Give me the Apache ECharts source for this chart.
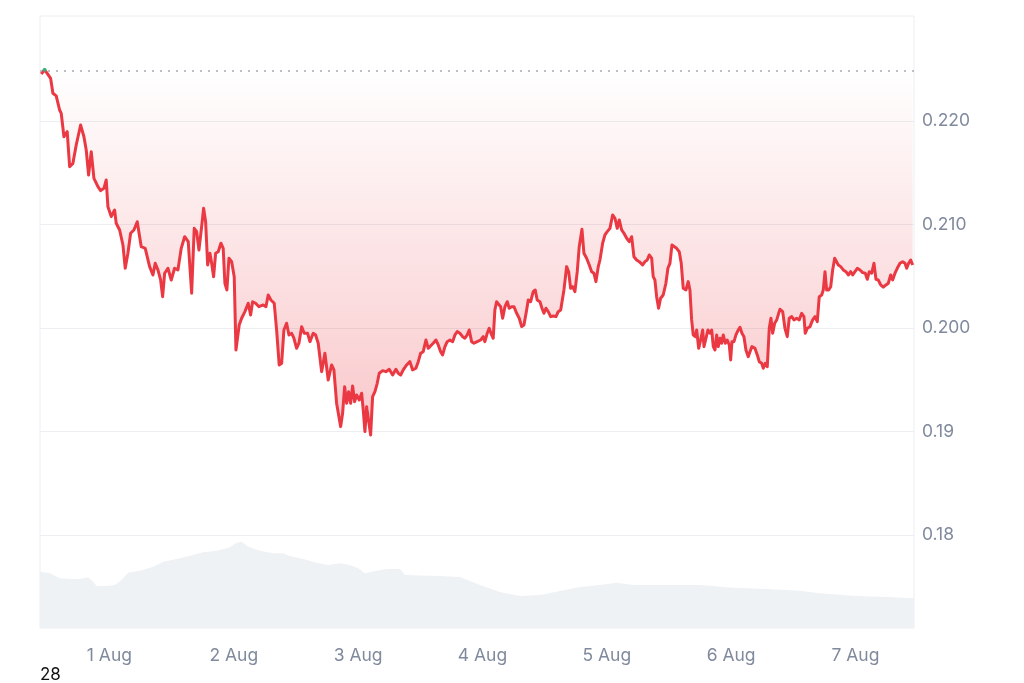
<!DOCTYPE html>
<html><head><meta charset="utf-8">
<script src="https://cdn.jsdelivr.net/npm/echarts@6/dist/echarts.min.js"></script>
<style>html,body{margin:0;padding:0;background:#fff}#c{width:1024px;height:683px}</style>
</head><body><div id="c"></div>
<script>
// hours counted from 31 Jul 00:00
const dayTicks = [24, 48, 72, 96, 120, 144, 168];
const dayLabels = ['1 Aug', '2 Aug', '3 Aug', '4 Aug', '5 Aug', '6 Aug', '7 Aug'];
const xRange = [10.6, 179.3];
const yTickValues = [0.18, 0.19, 0.20, 0.21, 0.22];
const yTickLabels = ['0.18', '0.19', '0.200', '0.210', '0.220'];
const baselinePrice = 0.22483;
const cornerNote = '28';

// [hour, price]
const pricePoints = [
[10.84,0.22454],[11.49,0.22495],[11.99,0.22461],[12.65,0.22412],[13.09,0.22268],[13.73,0.22242],[14.39,0.22106],[14.70,0.22074],[15.22,0.21848],[15.85,0.21897],
[16.32,0.21559],[16.95,0.21591],[17.59,0.21768],[17.92,0.21752],[18.44,0.21961],[19.08,0.21848],[19.52,0.21720],[19.98,0.21478],[20.49,0.21703],[21.01,0.21446],
[21.78,0.21365],[22.30,0.21327],[22.94,0.21350],[23.38,0.21430],[23.71,0.21172],[24.35,0.21076],[25.00,0.21140],[25.31,0.21012],[25.97,0.20947],[26.61,0.20802],
[27.05,0.20577],[27.57,0.20722],[28.09,0.20915],[28.73,0.20947],[29.37,0.21027],[30.14,0.20786],[30.91,0.20770],[31.76,0.20593],[32.40,0.20512],[32.84,0.20625],
[33.36,0.20561],[33.88,0.20464],[34.27,0.20303],[34.66,0.20529],[35.29,0.20577],[35.93,0.20464],[36.58,0.20577],[37.22,0.20561],[37.86,0.20770],[38.52,0.20882],
[39.21,0.20834],[39.87,0.20336],[40.37,0.20963],[40.83,0.20931],[41.28,0.20754],[41.80,0.20979],[42.18,0.21157],[42.57,0.21027],[42.96,0.20609],[43.40,0.20722],
[43.73,0.20625],[44.11,0.20496],[44.50,0.20722],[45.00,0.20737],[45.52,0.20819],[45.96,0.20770],[46.29,0.20432],[46.68,0.20367],[47.07,0.20674],[47.59,0.20641],
[48.09,0.20496],[48.42,0.19788],[48.75,0.19804],[49.05,0.20029],[49.52,0.20094],[50.15,0.20158],[50.79,0.20239],[51.25,0.20126],[51.64,0.20254],[52.22,0.20239],
[52.86,0.20206],[53.68,0.20223],[54.21,0.20206],[54.65,0.20319],[55.17,0.20271],[55.81,0.20239],[56.27,0.19981],[56.77,0.19643],[57.24,0.19659],[57.68,0.19981],
[58.20,0.20046],[58.65,0.19933],[59.17,0.19949],[59.61,0.19901],[60.13,0.19804],[60.58,0.19853],[61.10,0.20013],[61.60,0.19949],[62.25,0.19949],[62.70,0.19868],
[63.03,0.19853],[63.34,0.19949],[63.80,0.19933],[64.30,0.19853],[64.96,0.19578],[65.27,0.19595],[65.59,0.19756],[66.23,0.19498],[66.89,0.19643],[67.33,0.19595],
[67.85,0.19273],[68.63,0.19047],[69.01,0.19176],[69.40,0.19433],[69.79,0.19273],[70.17,0.19385],[70.56,0.19273],[70.94,0.19440],[71.33,0.19288],[71.72,0.19353],
[72.22,0.19305],[72.68,0.19370],[72.99,0.19208],[73.32,0.18999],[73.65,0.19240],[74.03,0.19225],[74.42,0.18967],[74.80,0.19337],[75.25,0.19385],[75.69,0.19466],
[76.08,0.19563],[76.74,0.19588],[77.37,0.19578],[78.01,0.19601],[78.67,0.19546],[79.30,0.19601],[79.75,0.19563],[80.21,0.19546],[80.71,0.19595],[81.37,0.19643],
[82.00,0.19675],[82.52,0.19595],[83.16,0.19611],[83.61,0.19675],[84.07,0.19756],[84.57,0.19771],[85.09,0.19884],[85.54,0.19804],[85.87,0.19788],[86.50,0.19853],
[87.02,0.19884],[87.47,0.19836],[87.93,0.19771],[88.31,0.19740],[88.76,0.19820],[89.20,0.19868],[89.72,0.19884],[90.24,0.19868],[90.69,0.19933],[91.13,0.19965],
[91.65,0.19949],[92.17,0.19916],[92.62,0.19901],[93.06,0.19933],[93.45,0.19981],[93.91,0.19868],[94.36,0.19853],[94.99,0.19868],[95.65,0.19884],[96.15,0.19916],
[96.47,0.19868],[96.92,0.19949],[97.30,0.19997],[97.77,0.19933],[98.08,0.19901],[98.40,0.20174],[98.73,0.20254],[99.04,0.20239],[99.51,0.20206],[99.90,0.20094],
[100.34,0.20206],[100.79,0.20254],[101.17,0.20191],[101.64,0.20206],[102.08,0.20206],[102.60,0.20142],[103.10,0.20094],[103.57,0.20013],[104.01,0.20029],[104.53,0.20174],
[104.84,0.20271],[105.30,0.20254],[105.80,0.20351],[106.19,0.20367],[106.57,0.20271],[107.10,0.20254],[107.49,0.20191],[107.87,0.20142],[108.26,0.20191],[108.70,0.20158],
[109.17,0.20110],[109.67,0.20116],[110.19,0.20110],[110.63,0.20158],[111.10,0.20174],[111.48,0.20191],[111.73,0.20367],[112.25,0.20593],[112.64,0.20544],[113.02,0.20384],
[113.41,0.20399],[113.85,0.20351],[114.30,0.20544],[114.68,0.20786],[115.21,0.20954],[115.59,0.20722],[116.11,0.20674],[116.62,0.20609],[117.08,0.20544],[117.52,0.20529],
[117.91,0.20448],[118.36,0.20593],[118.68,0.20657],[119.20,0.20819],[119.65,0.20899],[120.09,0.20931],[120.61,0.20963],[121.13,0.21092],[121.58,0.21060],[122.02,0.20963],
[122.41,0.21044],[122.87,0.20947],[123.32,0.20915],[123.84,0.20867],[124.34,0.20834],[124.80,0.20882],[125.24,0.20689],[125.76,0.20657],[126.27,0.20641],[126.92,0.20609],
[127.37,0.20641],[127.81,0.20657],[128.19,0.20706],[128.66,0.20674],[128.96,0.20496],[129.29,0.20464],[129.62,0.20303],[130.00,0.20191],[130.39,0.20287],[130.89,0.20319],
[131.41,0.20432],[131.80,0.20577],[132.19,0.20625],[132.58,0.20802],[132.96,0.20786],[133.48,0.20770],[133.99,0.20737],[134.37,0.20625],[134.76,0.20384],[135.28,0.20367],
[135.72,0.20448],[136.05,0.20367],[136.38,0.20078],[136.69,0.19933],[137.08,0.19916],[137.35,0.19981],[137.74,0.19804],[138.12,0.19884],[138.51,0.19981],[138.76,0.19820],
[139.15,0.19901],[139.53,0.19981],[139.92,0.19949],[140.25,0.19981],[140.56,0.19820],[140.89,0.19788],[141.21,0.19933],[141.52,0.19820],[141.85,0.19901],[142.17,0.19853],
[142.48,0.19933],[142.87,0.19853],[143.25,0.19884],[143.64,0.19836],[143.91,0.19691],[144.16,0.19868],[144.55,0.19868],[144.93,0.19933],[145.38,0.19981],[145.71,0.20007],
[146.09,0.19949],[146.48,0.19916],[146.86,0.19788],[147.31,0.19723],[147.64,0.19771],[148.02,0.19820],[148.60,0.19804],[149.05,0.19740],[149.43,0.19675],[149.90,0.19659],
[150.21,0.19611],[150.59,0.19659],[150.98,0.19627],[151.36,0.19997],[151.69,0.20094],[152.02,0.19949],[152.41,0.20046],[152.80,0.20078],[153.18,0.20142],[153.44,0.20181],
[153.95,0.20158],[154.39,0.19997],[154.84,0.19916],[155.22,0.20094],[155.69,0.20110],[156.13,0.20078],[156.65,0.20094],[157.15,0.20078],[157.62,0.20142],[158.06,0.20110],
[158.31,0.19949],[158.70,0.19997],[159.22,0.20013],[159.74,0.20078],[160.19,0.20110],[160.63,0.20061],[161.01,0.20303],[161.48,0.20319],[161.79,0.20367],[162.12,0.20544],
[162.44,0.20367],[162.83,0.20367],[163.22,0.20399],[163.60,0.20561],[163.99,0.20674],[164.24,0.20689],[164.69,0.20609],[165.15,0.20593],[165.65,0.20561],[166.17,0.20544],
[166.62,0.20512],[167.08,0.20544],[167.47,0.20512],[167.91,0.20544],[168.36,0.20577],[168.87,0.20561],[169.39,0.20535],[169.89,0.20529],[170.28,0.20471],[170.67,0.20544],
[171.13,0.20529],[171.57,0.20625],[171.96,0.20471],[172.40,0.20464],[172.87,0.20416],[173.37,0.20394],[173.89,0.20416],[174.34,0.20432],[174.80,0.20512],[175.18,0.20464],
[175.63,0.20529],[176.07,0.20577],[176.59,0.20625],[177.11,0.20641],[177.56,0.20625],[177.89,0.20577],[178.27,0.20625],[178.66,0.20657],[179.04,0.20609]
];

// [hour, volume (M)]
const volumePoints = [
[10.6,64.4],[12.52,62.6],[14.45,56.8],[16.38,56.0],[18.31,56.0],[19.91,58.0],[20.87,53.0],[21.53,48.0],[23.46,48.0],[25.06,49.2],
[26.36,54.9],[27.63,63.3],[29.89,65.5],[32.46,70.1],[34.39,75.8],[36.97,78.9],[39.54,82.7],[42.11,86.6],[44.69,88.4],[47.26,92.3],
[48.55,97.6],[49.52,98.7],[50.79,93.0],[53.05,88.4],[55.62,85.4],[57.55,85.4],[58.84,82.4],[61.41,78.9],[63.99,74.7],[66.23,72.1],
[68.49,74.0],[70.42,72.1],[72.02,68.3],[73.32,62.6],[75.58,65.5],[77.51,67.5],[80.08,67.5],[81.04,60.6],[87.80,59.5],[91.66,58.3],
[95.52,49.2],[99.38,41.2],[103.24,36.6],[107.10,37.7],[110.96,42.3],[114.82,46.9],[118.68,49.2],[121.9,51.8],[125.11,49.2],[131.55,49.2],
[137.98,49.2],[144.41,46.1],[150.86,44.6],[157.29,42.7],[161.15,39.7],[168.24,36.6],[175.30,35.1],[179.3,34.0]
];

const abovePoints = pricePoints.filter(([h, p]) => p > baselinePrice);

const labelColor = '#808a9d';
const fontFam = 'Inter, "Liberation Sans", Arial, sans-serif';
const fillGradient = new echarts.graphic.LinearGradient(0, 0, 0, 1, [
  {offset: 0, color: 'rgba(234,57,67,0.0)'},
  {offset: 1, color: 'rgba(234,57,67,0.28)'}
]);

const chart = echarts.init(document.getElementById('c'), null, {renderer: 'canvas'});
chart.setOption({
  animation: false,
  backgroundColor: '#ffffff',
  textStyle: {fontFamily: fontFam},
  grid: [
    {left: 40, right: 110, top: 16, bottom: 55, show: true, borderColor: '#eceef1', borderWidth: 1, backgroundColor: 'transparent'},
    {left: 40, right: 110, top: 17.5, bottom: 44.5}
  ],
  xAxis: [
    {gridIndex: 0, type: 'value', min: xRange[0], max: xRange[1],
     axisLine: {show: false}, axisTick: {show: false}, splitLine: {show: false},
     axisLabel: {customValues: dayTicks, formatter: v => dayLabels[dayTicks.indexOf(v)] || '',
       color: labelColor, fontSize: 17.5, margin: 19, fontFamily: fontFam}},
    {gridIndex: 1, type: 'value', min: xRange[0], max: xRange[1], show: false}
  ],
  yAxis: [
    {gridIndex: 0, type: 'value', min: 0, max: 700, show: false},
    {gridIndex: 1, type: 'value', position: 'right', min: 0.17, max: 0.23, interval: 0.01,
     axisLine: {show: false}, axisTick: {show: false},
     splitLine: {show: true, showMinLine: false, showMaxLine: false, lineStyle: {color: '#eceef1', width: 1}},
     axisLabel: {showMinLabel: false, showMaxLabel: false, color: labelColor, fontSize: 17.5, margin: 8, fontFamily: fontFam,
       formatter: v => { const i = yTickValues.findIndex(t => Math.abs(t - v) < 1e-6); return i >= 0 ? yTickLabels[i] : ''; }}}
  ],
  series: [
    {type: 'line', xAxisIndex: 0, yAxisIndex: 0, data: volumePoints, showSymbol: false, silent: true,
     lineStyle: {width: 0}, areaStyle: {color: '#eff2f5', opacity: 1}, z: 1},
    {type: 'custom', xAxisIndex: 1, yAxisIndex: 1, silent: true, z: 2,
     data: [[pricePoints[0][0], baselinePrice]],
     renderItem: (params, api) => {
       const pts = pricePoints.map(([h, p]) => api.coord([h, p]));
       pts.unshift(api.coord([pricePoints[0][0], baselinePrice]));
       pts.push(api.coord([pricePoints[pricePoints.length - 1][0], baselinePrice]));
       return {type: 'polygon', shape: {points: pts}, style: {fill: fillGradient}};
     }},
    {type: 'line', name: 'price', xAxisIndex: 1, yAxisIndex: 1, data: pricePoints, showSymbol: false, silent: true,
     lineStyle: {width: 3, color: '#ea3943', join: 'round'}, itemStyle: {color: '#ea3943'}, z: 4,
     markLine: {silent: true, symbol: 'none', label: {show: false}, precision: 6,
       lineStyle: {color: '#a6abb5', type: [2, 6], width: 1.5},
       data: [{yAxis: baselinePrice}]}
    },
    {type: 'scatter', xAxisIndex: 1, yAxisIndex: 1, data: abovePoints, symbolSize: 4, silent: true,
     itemStyle: {color: '#16c784'}, z: 5}
  ],
  graphic: [
    {type: 'text', left: 40, top: 666, style: {text: cornerNote, fill: '#111', font: '17px ' + fontFam}}
  ]
});
</script>
</body></html>
